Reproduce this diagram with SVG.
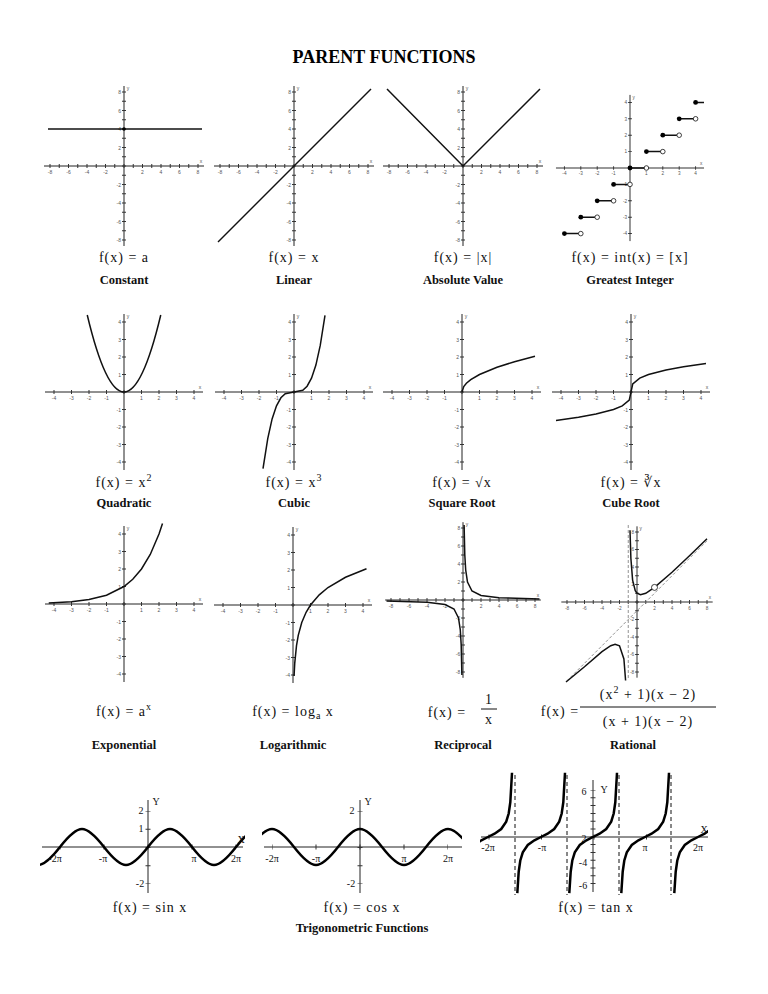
<svg xmlns="http://www.w3.org/2000/svg" xmlns:xlink="http://www.w3.org/1999/xlink" width="768" height="994" viewBox="0 0 768 994">
<style>
.ax{stroke:#222;stroke-width:1;fill:none}
.tk{stroke:#333;fill:none}
.tl{font-family:"Liberation Sans",sans-serif;font-size:5px;fill:#555;text-anchor:middle}
.tl .e{text-anchor:end}
.c{stroke:#111;stroke-width:1.5;fill:none}
.f{font-family:"Liberation Serif","DejaVu Serif",serif;font-size:14px;fill:#111;text-anchor:middle;letter-spacing:1px}
.n{font-family:"Liberation Serif",serif;font-size:12.5px;font-weight:bold;fill:#111;text-anchor:middle}
.t{font-family:"Liberation Serif",serif;font-size:10px;fill:#111;text-anchor:middle}
.da{stroke:#777;stroke-width:0.8;stroke-dasharray:3 2;fill:none}
.dk{stroke:#111;stroke-width:1;stroke-dasharray:4 3;fill:none}
</style>
<defs>
<g id="ax8">
<path class="ax" d="M-80,0H80M0,-80V80"/>
<path class="tk" d="M-74.5,0H74.5" stroke-width="4" stroke-dasharray="1 8.25"/>
<path class="tk" d="M0,-74.5V74.5" stroke-width="4" stroke-dasharray="1 8.25"/>
</g>
<g id="ax4">
<path class="ax" d="M-79,0H79M0,-78V78"/>
<path class="tk" d="M-70.5,0H70.5" stroke-width="4" stroke-dasharray="1 16.5"/>
<path class="tk" d="M0,-70.5V70.5" stroke-width="4" stroke-dasharray="1 16.5"/>
</g>
<g id="lab8" class="tl">
<text x="-74" y="8">-8</text><text x="-55.5" y="8">-6</text><text x="-37" y="8">-4</text><text x="-18.5" y="8">-2</text>
<text x="18.5" y="8">2</text><text x="37" y="8">4</text><text x="55.5" y="8">6</text><text x="74" y="8">8</text>
<text class="e" x="-3" y="-72">8</text><text class="e" x="-3" y="-53.5">6</text><text class="e" x="-3" y="-35">4</text><text class="e" x="-3" y="-16.5">2</text>
<text class="e" x="-3" y="20.5">-2</text><text class="e" x="-3" y="39">-4</text><text class="e" x="-3" y="57.5">-6</text><text class="e" x="-3" y="76">-8</text>
<text x="4" y="-76">y</text><text x="77" y="-3">x</text>
</g>
<g id="lab4" class="tl">
<text x="-70" y="8">-4</text><text x="-52.5" y="8">-3</text><text x="-35" y="8">-2</text><text x="-17.5" y="8">-1</text>
<text x="17.5" y="8">1</text><text x="35" y="8">2</text><text x="52.5" y="8">3</text><text x="70" y="8">4</text>
<text class="e" x="-3" y="-68">4</text><text class="e" x="-3" y="-50.5">3</text><text class="e" x="-3" y="-33">2</text><text class="e" x="-3" y="-15.5">1</text>
<text class="e" x="-3" y="19.5">-1</text><text class="e" x="-3" y="37">-2</text><text class="e" x="-3" y="54.5">-3</text><text class="e" x="-3" y="72">-4</text>
<text x="4" y="-74">y</text><text x="76" y="-3">x</text>
</g>
<path id="tanb" d="M-23.7,56.2 L-22.3,34.7 -20.7,23.5 -18.2,15.3 -13.2,8 -6.6,3.3 0,0 6.6,-3.3 13.2,-8 18.2,-15.3 20.7,-23.5 22.3,-34.7 24,-64.3" stroke="#000" stroke-width="2.5" fill="none"/>
<path id="sinw" d="M38,865 C45,865 52.82,856.23 60,847 C67.18,837.77 75,829 82,829 C89,829 96.82,837.77 104,847 C111.18,856.23 119,865 126,865 C133,865 140.82,856.23 148,847 C155.18,837.77 163,829 170,829 C177,829 184.82,837.77 192,847 C199.18,856.23 207,865 214,865 C221,865 228.82,856.23 236,847 C243.18,837.77 251,829 258,829 C265,829 272.82,837.77 280,847" stroke="#000" stroke-width="2.5" fill="none"/>
<clipPath id="cs"><rect x="40" y="800" width="205" height="100"/></clipPath>
<clipPath id="cc"><rect x="262" y="800" width="200" height="100"/></clipPath>
<clipPath id="ct"><rect x="480" y="772" width="228" height="122"/></clipPath>
</defs>
<rect width="768" height="994" fill="#fff"/>
<text x="384" y="63" font-family="Liberation Serif,serif" font-size="18" font-weight="bold" text-anchor="middle">PARENT FUNCTIONS</text>

<g id="constant">
<use xlink:href="#ax8" transform="translate(124,166)"/><use xlink:href="#lab8" transform="translate(124,166)"/>
<path class="c" d="M48,129H202"/><circle cx="124" cy="129" r="1.8"/>
<text class="f" x="124" y="262">f(x) = a</text><text class="n" x="124" y="284">Constant</text>
</g>
<g id="linear">
<use xlink:href="#ax8" transform="translate(294,166)"/><use xlink:href="#lab8" transform="translate(294,166)"/>
<path class="c" d="M218,242L371,89"/>
<text class="f" x="294" y="262">f(x) = x</text><text class="n" x="294" y="284">Linear</text>
</g>
<g id="absolute">
<use xlink:href="#ax8" transform="translate(463,166)"/><use xlink:href="#lab8" transform="translate(463,166)"/>
<path class="c" d="M387,89L463,166L540,89"/>
<text class="f" x="463" y="262">f(x) = |x|</text><text class="n" x="463" y="284">Absolute Value</text>
</g>
<g id="greatest">
<use xlink:href="#ax4" transform="translate(630,168) scale(0.937)"/><use xlink:href="#lab4" transform="translate(630,168) scale(0.937)"/>
<g stroke="#111" stroke-width="1.5">
<path d="M564.4,233.6H580.8M580.8,217.2H597.2M597.2,200.8H613.6M613.6,184.4H630M630,168H646.4M646.4,151.6H662.8M662.8,135.2H679.2M679.2,118.8H695.6M695.6,102.4H704"/>
</g>
<g fill="#000"><circle cx="564.4" cy="233.6" r="2.4"/><circle cx="580.8" cy="217.2" r="2.4"/><circle cx="597.2" cy="200.8" r="2.4"/><circle cx="613.6" cy="184.4" r="2.4"/><circle cx="630" cy="168" r="2.4"/><circle cx="646.4" cy="151.6" r="2.4"/><circle cx="662.8" cy="135.2" r="2.4"/><circle cx="679.2" cy="118.8" r="2.4"/><circle cx="695.6" cy="102.4" r="2.4"/></g>
<g fill="#fff" stroke="#111" stroke-width="0.8"><circle cx="580.8" cy="233.6" r="2.3"/><circle cx="597.2" cy="217.2" r="2.3"/><circle cx="613.6" cy="200.8" r="2.3"/><circle cx="630" cy="184.4" r="2.3"/><circle cx="646.4" cy="168" r="2.3"/><circle cx="662.8" cy="151.6" r="2.3"/><circle cx="679.2" cy="135.2" r="2.3"/><circle cx="695.6" cy="118.8" r="2.3"/></g>
<text class="f" x="630" y="262">f(x) = int(x) = [x]</text><text class="n" x="630" y="284">Greatest Integer</text>
</g>

<g id="quadratic">
<use xlink:href="#ax4" transform="translate(124,392)"/><use xlink:href="#lab4" transform="translate(124,392)"/>
<path class="c" d="M87.25,315Q124,469 160.75,315"/>
<text class="f" x="124" y="487">f(x) = x<tspan dy="-6" font-size="10">2</tspan></text><text class="n" x="124" y="507">Quadratic</text>
</g>
<g id="cubic">
<use xlink:href="#ax4" transform="translate(294,392)"/><use xlink:href="#lab4" transform="translate(294,392)"/>
<path class="c" d="M263,468.6L267.75,438.6 272.1,418.95 276.5,405.8 280.9,397.8 285.25,393.7 294,392 302.75,390.3 307.1,386.2 311.5,378.2 315.9,365.05 320.25,345.4 325,315.4"/>
<text class="f" x="294" y="487">f(x) = x<tspan dy="-6" font-size="10">3</tspan></text><text class="n" x="294" y="507">Cubic</text>
</g>
<g id="sqrt">
<use xlink:href="#ax4" transform="translate(462,392)"/><use xlink:href="#lab4" transform="translate(462,392)"/>
<path class="c" d="M462,392L463.75,386.5 466.4,383.25 470.75,379.6 479.5,374.5 497,367.3 514.5,361.7 535,356.3"/>
<text class="f" x="462" y="487">f(x) = √x</text><text class="n" x="462" y="507">Square Root</text>
</g>
<g id="cbrt">
<use xlink:href="#ax4" transform="translate(631,392)"/><use xlink:href="#lab4" transform="translate(631,392)"/>
<path class="c" d="M556,420.4L578.5,417.2 596,414.05 613.5,409.5 622.25,405.9 629.25,400.1 631,392 632.75,383.9 639.75,378.1 648.5,374.5 666,369.95 683.5,366.8 706,363.6"/>
<text class="f" x="631" y="487">f(x) = ∛x</text><text class="n" x="631" y="507">Cube Root</text>
</g>

<g id="exponential">
<use xlink:href="#ax4" transform="translate(124,604)"/><use xlink:href="#lab4" transform="translate(124,604)"/>
<path class="c" d="M48.75,603.1L71.5,601.8 89,599.6 106.5,595.25 124,586.5 132.75,579.25 141.5,569 150.25,554.5 159,534 162.5,523.5"/>
<text class="f" x="124" y="716">f(x) = a<tspan dy="-6" font-size="10">x</tspan></text><text class="n" x="124" y="749">Exponential</text>
</g>
<g id="logarithmic">
<use xlink:href="#ax4" transform="translate(293,605)"/><use xlink:href="#lab4" transform="translate(293,605)"/>
<path class="c" d="M294.05,676L294.75,663.1 296.5,645.6 298.25,635.4 301.75,622.5 306.1,612.3 310.5,605 319.25,594.8 328,587.5 345.5,577.3 366.5,568.8"/>
<text class="f" x="293" y="716">f(x) = log<tspan dy="3" font-size="10">a</tspan><tspan dy="-3"> x</tspan></text><text class="n" x="293" y="749">Logarithmic</text>
</g>
<g id="reciprocal">
<use xlink:href="#ax8" transform="translate(463,600) scale(0.973)"/><use xlink:href="#lab8" transform="translate(463,600) scale(0.973)"/>
<path class="c" d="M464.1,525L464.8,555 465.7,570 467.5,582 472,591 481,595.5 499,597.75 539.5,598.9"/>
<path class="c" d="M461.9,675L461.2,645 460.3,630 458.5,618 454,609 445,604.5 427,602.25 386.5,601.1"/>
<text class="f" x="447" y="717">f(x) =</text><text class="f" x="489" y="704">1</text><path d="M481,709H497" stroke="#111"/><text class="f" x="489" y="724">x</text>
<text class="n" x="463" y="749">Reciprocal</text>
</g>
<g id="rational">
<use xlink:href="#ax8" transform="translate(637,602) scale(0.946)"/><use xlink:href="#lab8" transform="translate(637,602) scale(0.946)"/>
<path class="da" d="M628.25,525V680M567,680.75L707,540.75"/>
<path class="c" d="M630,530.25L630.9,558.5 632.6,580.1 635.25,590.6 637,593.25 640.5,594.7 645.75,593.25 654.5,587.4 672,572.25 689.5,555.7 707,538.8"/>
<path class="c" d="M625.6,680.5L623.9,658.9 619.5,645.75 615.1,644.3 610.75,645.75 602,651.6 584.5,666.75 566,682"/>
<circle cx="654.5" cy="587.4" r="3" fill="#fff" stroke="#111" stroke-width="0.8"/>
<text class="f" x="560" y="716">f(x) =</text>
<text class="f" x="648" y="699">(x<tspan dy="-6" font-size="10">2</tspan><tspan dy="6"> + 1)(x − 2)</tspan></text>
<path d="M580,707H716" stroke="#111"/>
<text class="f" x="648" y="726">(x + 1)(x − 2)</text>
<text class="n" x="633" y="749">Rational</text>
</g>

<g id="sin">
<path class="ax" d="M42,847H243M148,800V893"/>
<path class="tk" d="M60,847H236" stroke-width="5" stroke-dasharray="1 43" stroke-dashoffset="0.5"/>
<path class="tk" d="M148,811V884" stroke-width="5" stroke-dasharray="1 17.25" stroke-dashoffset="0.5"/>
<use xlink:href="#sinw" clip-path="url(#cs)"/>
<g class="t"><text x="55" y="862">-2π</text><text x="103" y="862">-π</text><text x="194" y="862">π</text><text x="236" y="862">2π</text>
<text x="141" y="814">2</text><text x="141" y="832">1</text><text x="140" y="887">-2</text><text x="156" y="805">Y</text><text x="241" y="843">X</text></g>
<text class="f" x="150" y="912">f(x) = sin x</text>
</g>
<g id="cos">
<path class="ax" d="M264,847H462M360,800V893"/>
<path class="tk" d="M272,847H448" stroke-width="5" stroke-dasharray="1 43" stroke-dashoffset="0.5"/>
<path class="tk" d="M360,811V884" stroke-width="5" stroke-dasharray="1 17.25" stroke-dashoffset="0.5"/>
<g clip-path="url(#cc)"><use xlink:href="#sinw" transform="translate(190,0)"/></g>
<g class="t"><text x="272" y="862">-2π</text><text x="316" y="862">-π</text><text x="404" y="862">π</text><text x="448" y="862">2π</text>
<text x="352" y="814">2</text><text x="351" y="887">-2</text><text x="368" y="805">Y</text></g>
<text class="f" x="362" y="912">f(x) = cos x</text>
</g>
<g id="tan">
<path class="ax" d="M481,837H708M593,780V892"/>
<path class="tk" d="M488.5,837H698.5" stroke-width="5" stroke-dasharray="1 51.5"/>
<path class="tk" d="M593,790V884" stroke-width="5" stroke-dasharray="1 6.8" stroke-dashoffset="0.5"/>
<path class="dk" d="M515,775V895M567,775V895M619,775V895M671,775V895"/>
<g clip-path="url(#ct)"><use xlink:href="#tanb" x="488" y="837"/><use xlink:href="#tanb" x="541" y="837"/><use xlink:href="#tanb" x="593" y="837"/><use xlink:href="#tanb" x="645" y="837"/><use xlink:href="#tanb" x="698" y="837"/></g>
<g class="t"><text x="488" y="851">-2π</text><text x="542" y="851">-π</text><text x="645" y="851">π</text><text x="698" y="851">2π</text>
<text x="584" y="795">6</text><text x="584" y="842">2</text><text x="583" y="866">-4</text><text x="583" y="889">-6</text><text x="604" y="793">Y</text><text x="704" y="833">X</text></g>
<text class="f" x="596" y="912">f(x) = tan x</text>
</g>
<text class="n" x="362" y="932">Trigonometric Functions</text>
</svg>
